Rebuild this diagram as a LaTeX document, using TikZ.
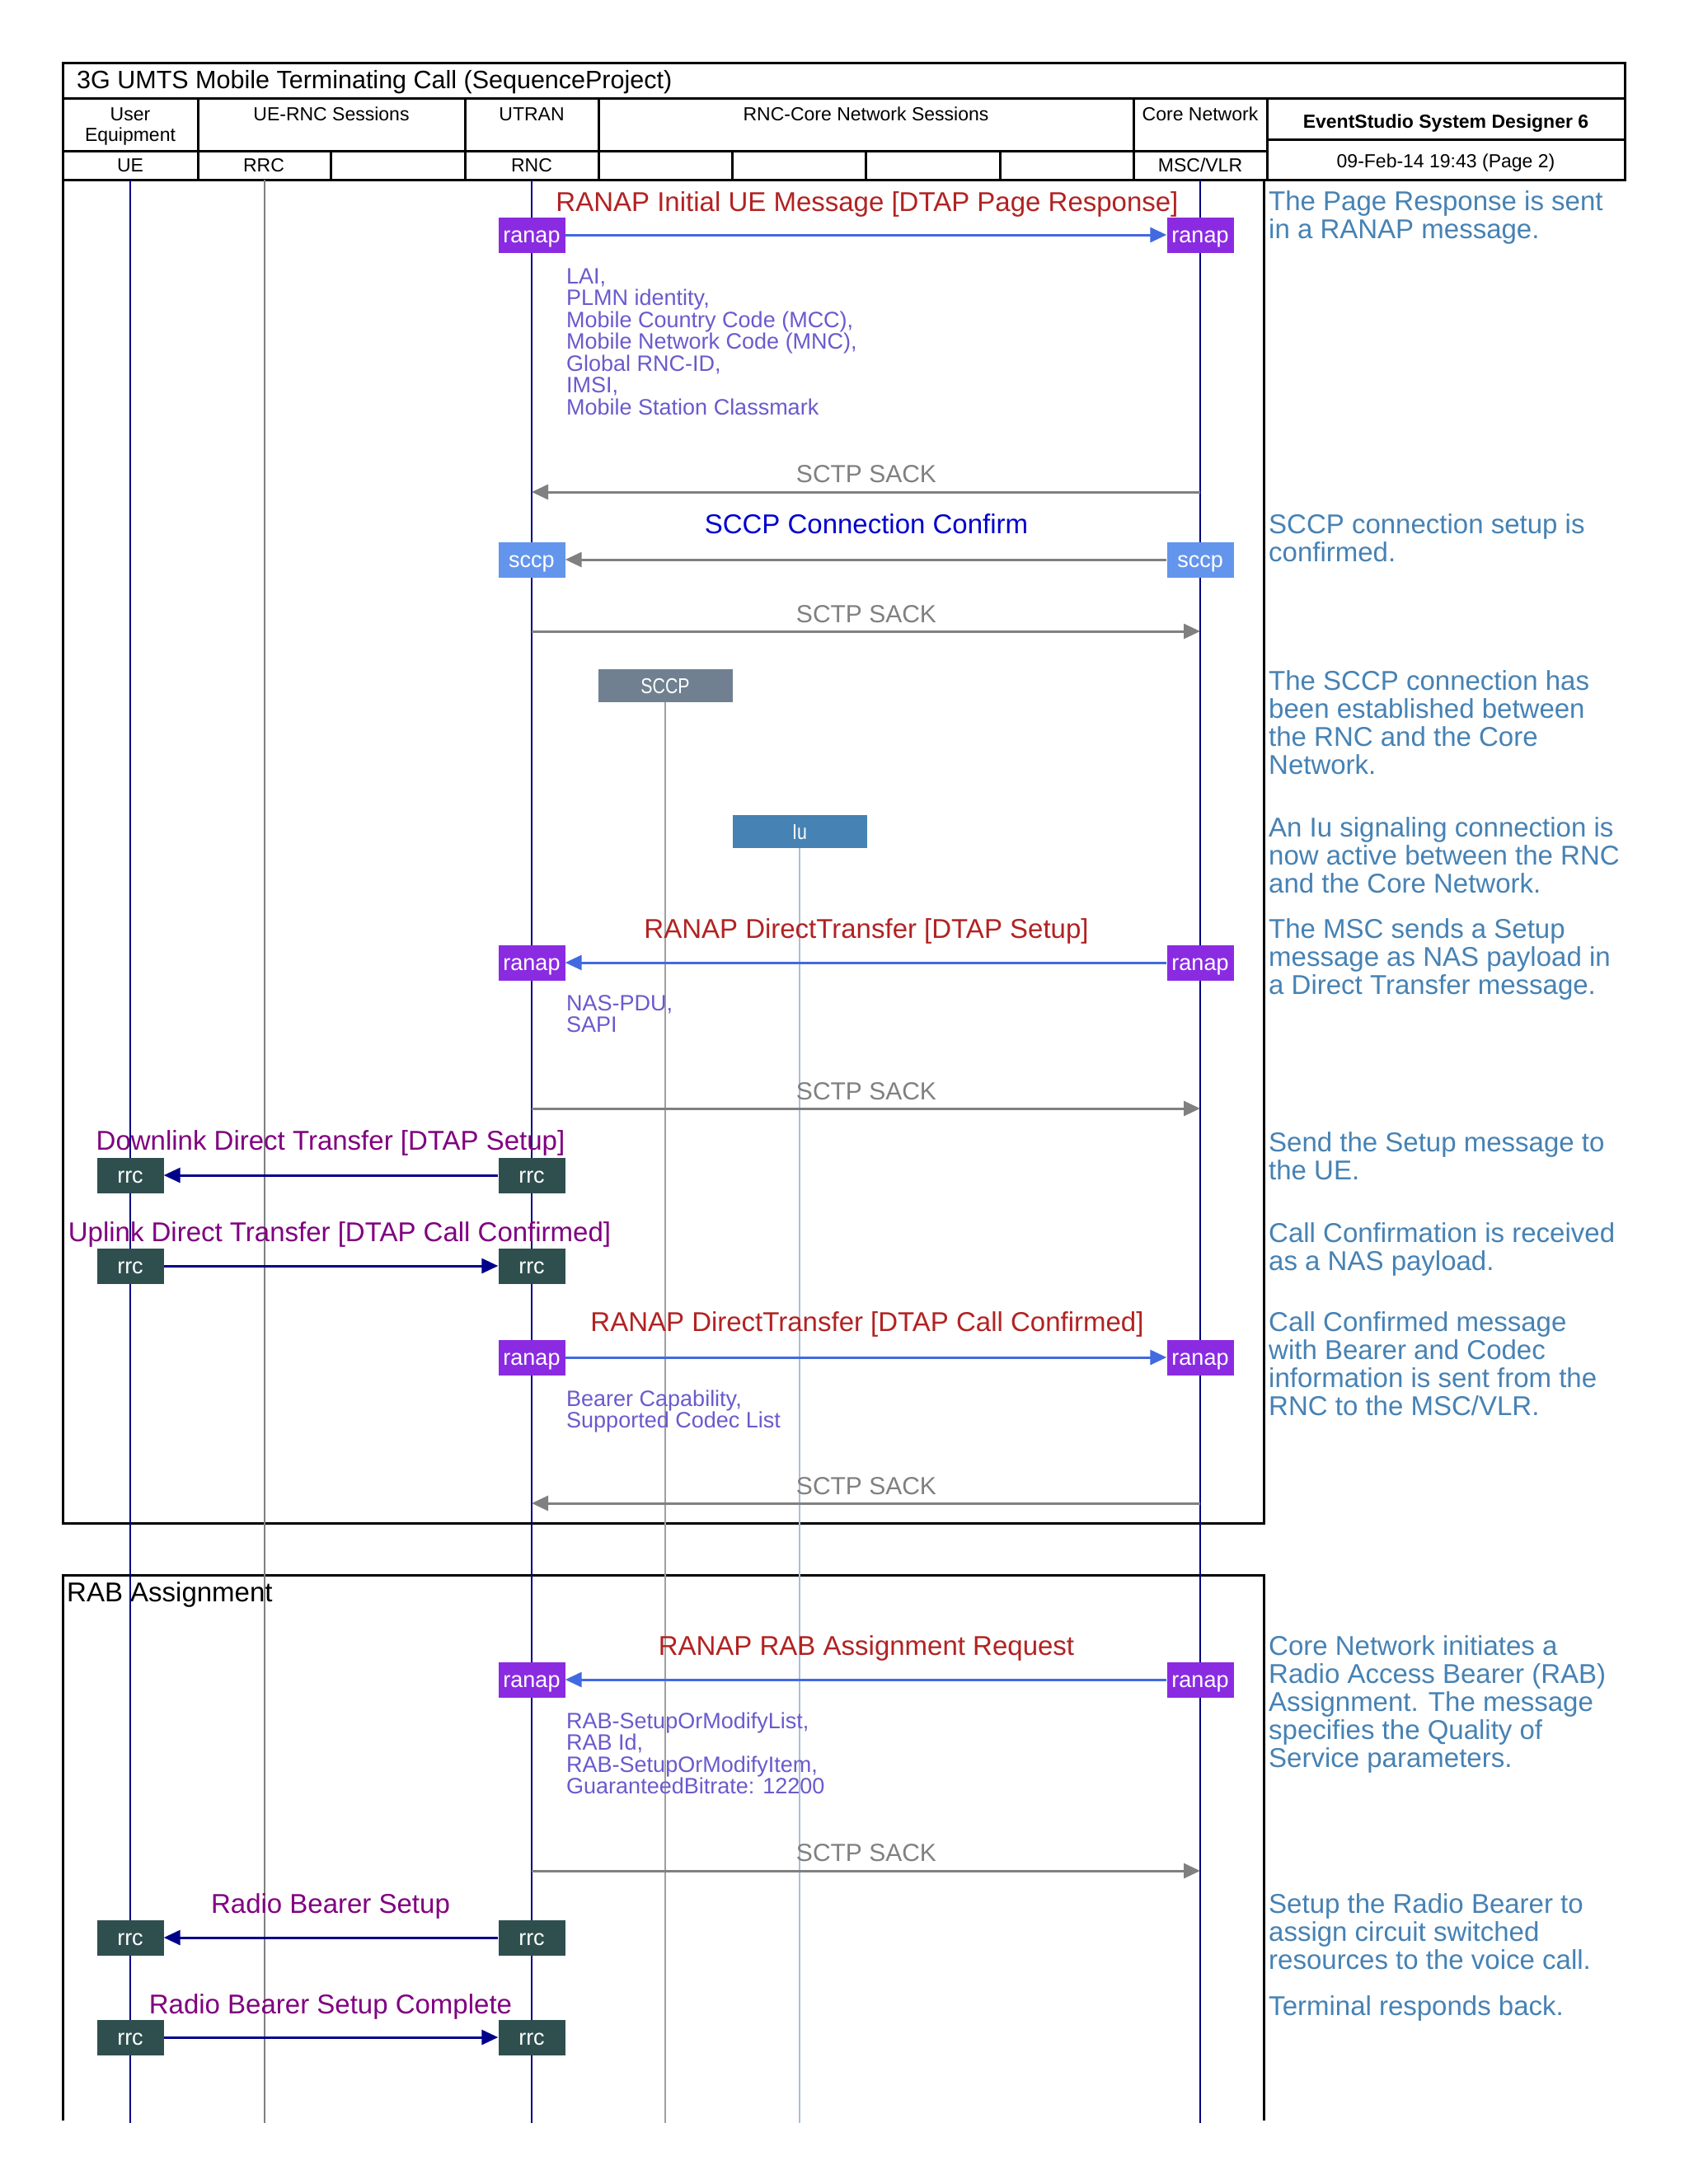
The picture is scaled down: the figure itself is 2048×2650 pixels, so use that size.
\documentclass[tikz,border=0pt]{standalone}
\usepackage{fontspec}
\usepackage{graphicx}
\setmainfont{Liberation Sans}
\usetikzlibrary{arrows.meta}
\definecolor{msgred}{HTML}{B22222}
\definecolor{sccpblue}{HTML}{0000CD}
\definecolor{rrcpurple}{HTML}{800080}
\definecolor{sackgray}{HTML}{808080}
\definecolor{paramcol}{HTML}{6A5ACD}
\definecolor{annotcol}{HTML}{4682B4}
\definecolor{ranapfill}{HTML}{8A2BE2}
\definecolor{sccpfill}{HTML}{6495ED}
\definecolor{rrcfill}{HTML}{2F4F4F}
\definecolor{lanegray}{HTML}{708090}
\definecolor{iufill}{HTML}{4682B4}
\definecolor{ranapln}{HTML}{4169E1}
\definecolor{rrcln}{HTML}{00008B}
\definecolor{lifenavy}{HTML}{000080}
\definecolor{sccplife}{HTML}{A0A0A0}
\definecolor{iulife}{HTML}{A9BFDA}
\newcommand\fsA{\fontsize{33}{34}\selectfont}
\newcommand\fsS{\fontsize{30}{32}\selectfont}
\newcommand\fsH{\fontsize{23}{25}\selectfont}
\newcommand\fsT{\fontsize{30.5}{32}\selectfont}
\newcommand\fsP{\fontsize{27}{26.5}\selectfont}
\newcommand\fsB{\fontsize{27}{28}\selectfont}
\newcommand\fsL{\fontsize{26}{28}\selectfont}
\begin{document}
\begin{tikzpicture}[x=1pt,y=-1pt,
  msglabel/.style={inner sep=0pt,font=\fsA,text height=24pt,text depth=0pt},
  sacklabel/.style={inner sep=0pt,font=\fsS,text height=22pt,text depth=0pt,text=sackgray},
  hdrtext/.style={inner sep=0pt,font=\fsH,text height=17pt,text depth=0pt},
  notetext/.style={inner sep=0pt,font=\fsA,text=annotcol,align=left,anchor=north west},
  paramtext/.style={inner sep=0pt,font=\fsP,text=paramcol,align=left,anchor=north west},
  mbox/.style={minimum width=81pt,minimum height=43pt,inner sep=0pt,font=\fsB,text=white,text height=20pt,text depth=2pt},
  ranapbox/.style={mbox,fill=ranapfill},
  sccpbox/.style={mbox,fill=sccpfill},
  rrcbox/.style={mbox,fill=rrcfill},
  lanebox/.style={minimum width=163pt,minimum height=40pt,inner sep=0pt,font=\fsL,text=white,text height=19pt,text depth=0pt},
  boxline/.style={line width=3pt,draw=black},
  lifeln/.style={line width=2pt,draw=lifenavy},
  arrowhd/.style={-{Triangle[length=20pt,width=18pt]}},
  ranaparrow/.style={arrowhd,line width=3pt,draw=ranapln},
  sackarrow/.style={arrowhd,line width=3pt,draw=sackgray},
  rrcarrow/.style={arrowhd,line width=3pt,draw=rrcln}
]
\fill[white] (0,0) rectangle (2048,2650);
\useasboundingbox (0,0) rectangle (2048,2650);

% ---------- header ----------
\draw[boxline] (76,76) rectangle (1971,218);
\draw[boxline] (76,119) -- (1971,119);
\draw[boxline] (76,183) -- (1537,183);
\draw[boxline] (1537,169) -- (1971,169);
\foreach \xx in {240,564,726,1375,1537} \draw[boxline] (\xx,119) -- (\xx,218);
\foreach \xx in {401,888,1050,1213} \draw[boxline] (\xx,183) -- (\xx,218);

\node[inner sep=0pt,font=\fsT,text height=22pt,text depth=0pt,anchor=west] (title) at (93,96) {3G UMTS Mobile Terminating Call (SequenceProject)};
\node[inner sep=0pt,font=\fsH,align=center,anchor=north] (hUEq) at (158,129.5) {\rule{0pt}{17pt}User\\Equipment};
\node[hdrtext] (hUERNC) at (402,138) {UE-RNC Sessions};
\node[hdrtext] (hUTRAN) at (645,138) {UTRAN};
\node[hdrtext] (hRNCCore) at (1050.5,138) {RNC-Core Network Sessions};
\node[hdrtext] (hCore) at (1456,138) {Core Network};
\node[hdrtext] (hUE) at (158,200) {UE};
\node[hdrtext] (hRRC) at (320,200) {RRC};
\node[hdrtext] (hRNC) at (645,200) {RNC};
\node[hdrtext] (hMSC) at (1456,200) {MSC/VLR};
\node[hdrtext,font=\fsH\bfseries] (hES) at (1754,147) {EventStudio System Designer 6};
\node[hdrtext] (hDate) at (1754,195) {09-Feb-14 19:43 (Page 2)};

% ---------- frames ----------
\draw[boxline] (76,218) -- (76,1848) -- (1533,1848) -- (1533,218);
\draw[boxline] (76,2573) -- (76,1911) -- (1533,1911) -- (1533,2573);
\node[inner sep=0pt,font=\fsA,text height=24pt,text depth=0pt,anchor=west] (rabfr) at (81,1931) {RAB Assignment};

% ---------- lane boxes ----------
\node[lanebox,fill=lanegray] (sccplane) at (807,832) {\scalebox{0.82}[1]{SCCP}};
\node[lanebox,fill=iufill] (iulane) at (970,1009) {\scalebox{0.82}[1]{Iu}};

% ---------- lifelines ----------
\coordinate (ueT) at (158,218);  \coordinate (ueB) at (158,2576);
\coordinate (rrcT) at (321,218); \coordinate (rrcB) at (321,2576);
\coordinate (rncT) at (645,218); \coordinate (rncB) at (645,2576);
\coordinate (mscT) at (1456,218); \coordinate (mscB) at (1456,2576);
\coordinate (sccpB) at (807,2576);
\coordinate (iuB) at (970,2576);
\draw[line width=1.2pt,draw=sackgray] (rrcT) -- (rrcB);
\draw[line width=1.5pt,draw=sccplife] (sccplane.south) -- (sccpB);
\draw[line width=1.5pt,draw=iulife] (iulane.south) -- (iuB);
\draw[lifeln] (ueT) -- (ueB);
\draw[lifeln] (rncT) -- (rncB);
\draw[lifeln] (mscT) -- (mscB);

% ---------- message 1 ----------
\node[msglabel,text=msgred] (l1) at (1052,244) {RANAP Initial UE Message [DTAP Page Response]};
\node[ranapbox] (r1a) at (645,285) {ranap};
\node[ranapbox] (r1b) at (1456,285) {ranap};
\draw[ranaparrow] (r1a.east) -- (r1b.west);
\node[paramtext] (p1) at (687,323) {\rule{0pt}{21pt}LAI,\\PLMN identity,\\Mobile Country Code (MCC),\\Mobile Network Code (MNC),\\Global RNC-ID,\\IMSI,\\Mobile Station Classmark};

% ---------- SCTP SACK 1 ----------
\node[sacklabel] (l2) at (1051,574) {SCTP SACK};
\coordinate (s1a) at (1456,597); \coordinate (s1b) at (645,597);
\draw[sackarrow] (s1a) -- (s1b);

% ---------- SCCP Connection Confirm ----------
\node[msglabel,text=sccpblue] (l3) at (1051,635) {SCCP Connection Confirm};
\node[sccpbox] (c1a) at (645,679) {sccp};
\node[sccpbox] (c1b) at (1456,679) {sccp};
\draw[sackarrow] (c1b.west) -- (c1a.east);

% ---------- SCTP SACK 2 ----------
\node[sacklabel] (l4) at (1051,744) {SCTP SACK};
\coordinate (s2a) at (645,766); \coordinate (s2b) at (1456,766);
\draw[sackarrow] (s2a) -- (s2b);

% ---------- RANAP DirectTransfer [DTAP Setup] ----------
\node[msglabel,text=msgred] (l5) at (1051,1126) {RANAP DirectTransfer [DTAP Setup]};
\node[ranapbox] (r2a) at (645,1168) {ranap};
\node[ranapbox] (r2b) at (1456,1168) {ranap};
\draw[ranaparrow] (r2b.west) -- (r2a.east);
\node[paramtext] (p2) at (687,1205) {\rule{0pt}{21pt}NAS-PDU,\\SAPI};

% ---------- SCTP SACK 3 ----------
\node[sacklabel] (l6) at (1051,1323) {SCTP SACK};
\coordinate (s3a) at (645,1345); \coordinate (s3b) at (1456,1345);
\draw[sackarrow] (s3a) -- (s3b);

% ---------- Downlink Direct Transfer ----------
\node[msglabel,text=rrcpurple] (l7) at (401,1383) {Downlink Direct Transfer [DTAP Setup]};
\node[rrcbox] (q1a) at (158,1426) {rrc};
\node[rrcbox] (q1b) at (645,1426) {rrc};
\draw[rrcarrow] (q1b.west) -- (q1a.east);

% ---------- Uplink Direct Transfer ----------
\node[msglabel,text=rrcpurple] (l8) at (412,1494) {Uplink Direct Transfer [DTAP Call Confirmed]};
\node[rrcbox] (q2a) at (158,1536) {rrc};
\node[rrcbox] (q2b) at (645,1536) {rrc};
\draw[rrcarrow] (q2a.east) -- (q2b.west);

% ---------- RANAP DirectTransfer [DTAP Call Confirmed] ----------
\node[msglabel,text=msgred] (l9) at (1052,1603) {RANAP DirectTransfer [DTAP Call Confirmed]};
\node[ranapbox] (r3a) at (645,1647) {ranap};
\node[ranapbox] (r3b) at (1456,1647) {ranap};
\draw[ranaparrow] (r3a.east) -- (r3b.west);
\node[paramtext] (p3) at (687,1685) {\rule{0pt}{21pt}Bearer Capability,\\Supported Codec List};

% ---------- SCTP SACK 4 ----------
\node[sacklabel] (l10) at (1051,1802) {SCTP SACK};
\coordinate (s4a) at (1456,1824); \coordinate (s4b) at (645,1824);
\draw[sackarrow] (s4a) -- (s4b);

% ---------- RANAP RAB Assignment Request ----------
\node[msglabel,text=msgred] (l11) at (1051,1996) {RANAP RAB Assignment Request};
\node[ranapbox] (r4a) at (645,2038) {ranap};
\node[ranapbox] (r4b) at (1456,2038) {ranap};
\draw[ranaparrow] (r4b.west) -- (r4a.east);
\node[paramtext] (p4) at (687,2076) {\rule{0pt}{21pt}RAB-SetupOrModifyList,\\RAB Id,\\RAB-SetupOrModifyItem,\\GuaranteedBitrate: 12200};

% ---------- SCTP SACK 5 ----------
\node[sacklabel] (l12) at (1051,2247) {SCTP SACK};
\coordinate (s5a) at (645,2270); \coordinate (s5b) at (1456,2270);
\draw[sackarrow] (s5a) -- (s5b);

% ---------- Radio Bearer Setup ----------
\node[msglabel,text=rrcpurple] (l13) at (401,2309) {Radio Bearer Setup};
\node[rrcbox] (q3a) at (158,2351) {rrc};
\node[rrcbox] (q3b) at (645,2351) {rrc};
\draw[rrcarrow] (q3b.west) -- (q3a.east);

% ---------- Radio Bearer Setup Complete ----------
\node[msglabel,text=rrcpurple] (l14) at (401,2431) {Radio Bearer Setup Complete};
\node[rrcbox] (q4a) at (158,2472) {rrc};
\node[rrcbox] (q4b) at (645,2472) {rrc};
\draw[rrcarrow] (q4a.east) -- (q4b.west);

% ---------- annotations ----------
\node[notetext] (n1) at (1539,230) {\rule{0pt}{25pt}The Page Response is sent\\in a RANAP message.};
\node[notetext] (n2) at (1539,622) {\rule{0pt}{25pt}SCCP connection setup is\\confirmed.};
\node[notetext] (n3) at (1539,812) {\rule{0pt}{25pt}The SCCP connection has\\been established between\\the RNC and the Core\\Network.};
\node[notetext] (n4) at (1539,990) {\rule{0pt}{25pt}An Iu signaling connection is\\now active between the RNC\\and the Core Network.};
\node[notetext] (n5) at (1539,1113) {\rule{0pt}{25pt}The MSC sends a Setup\\message as NAS payload in\\a Direct Transfer message.};
\node[notetext] (n6) at (1539,1372) {\rule{0pt}{25pt}Send the Setup message to\\the UE.};
\node[notetext] (n7) at (1539,1482) {\rule{0pt}{25pt}Call Confirmation is received\\as a NAS payload.};
\node[notetext] (n8) at (1539,1590) {\rule{0pt}{25pt}Call Confirmed message\\with Bearer and Codec\\information is sent from the\\RNC to the MSC/VLR.};
\node[notetext] (n9) at (1539,1983) {\rule{0pt}{25pt}Core Network initiates a\\Radio Access Bearer (RAB)\\Assignment. The message\\specifies the Quality of\\Service parameters.};
\node[notetext] (n10) at (1539,2296) {\rule{0pt}{25pt}Setup the Radio Bearer to\\assign circuit switched\\resources to the voice call.};
\node[notetext] (n11) at (1539,2420) {\rule{0pt}{25pt}Terminal responds back.};
\end{tikzpicture}
\end{document}
